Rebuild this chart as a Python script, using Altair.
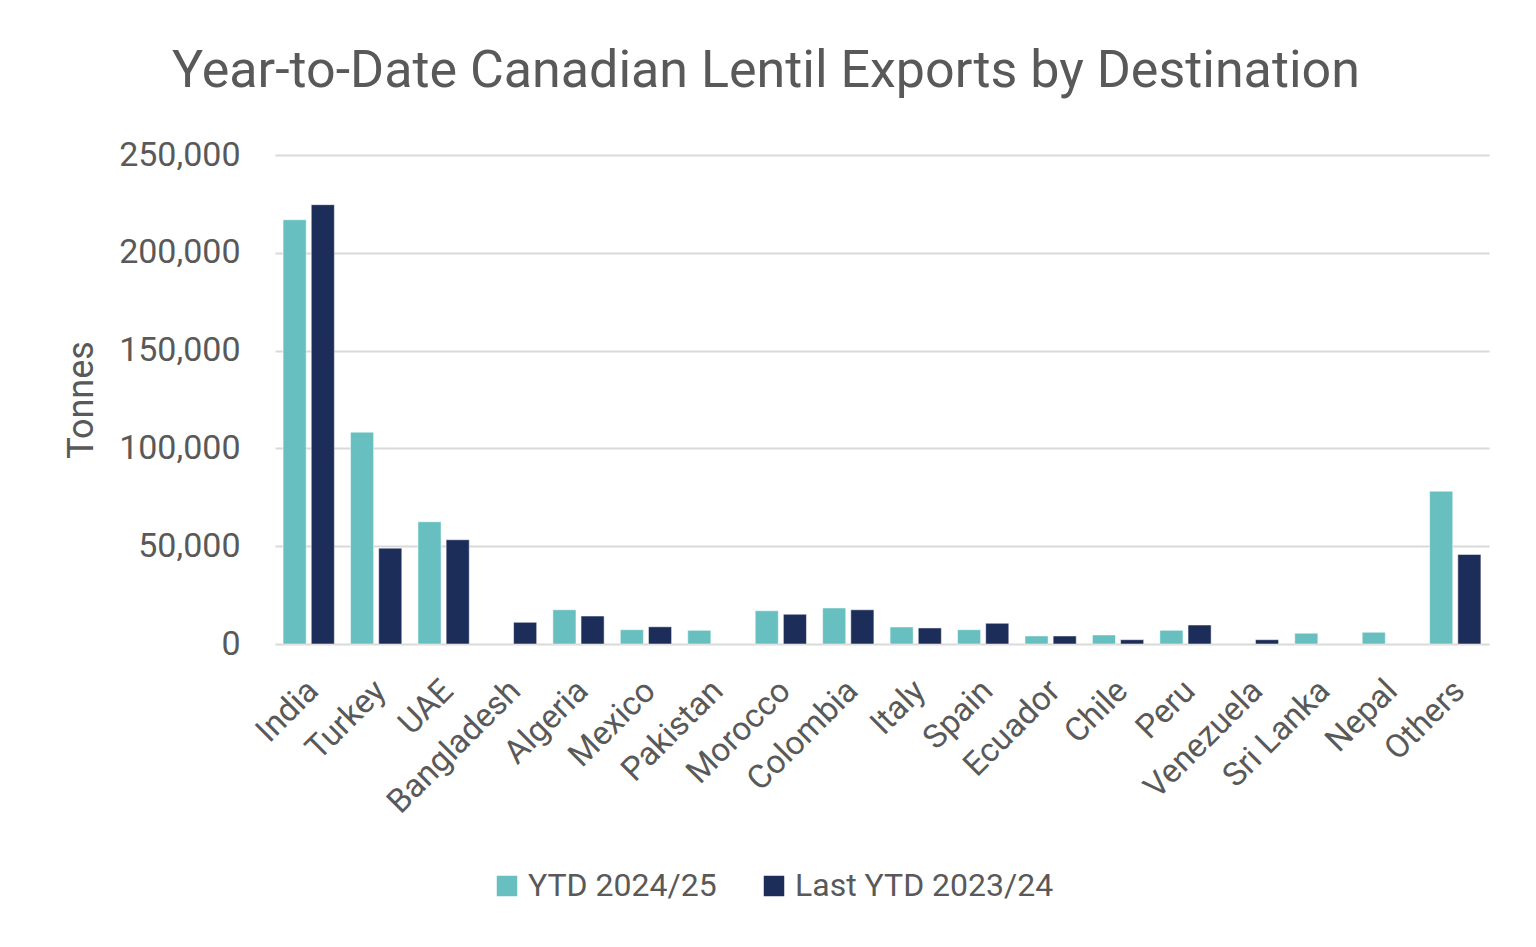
import altair as alt
import pandas as pd

categories = ["India", "Turkey", "UAE", "Bangladesh", "Algeria", "Mexico", "Pakistan",
              "Morocco", "Colombia", "Italy", "Spain", "Ecuador", "Chile", "Peru",
              "Venezuela", "Sri Lanka", "Nepal", "Others"]
ytd_2024_25 = [216900, 108300, 62500, 0, 17500, 7300, 7000, 17000, 18400, 8700, 7300,
               4100, 4600, 7000, 0, 5500, 6000, 78100]
last_ytd_2023_24 = [224600, 49000, 53300, 11100, 14300, 8800, 0, 15200, 17500, 8200, 10600,
                    4100, 2200, 9700, 2200, 0, 0, 45800]
series = ["YTD 2024/25", "Last YTD 2023/24"]
colors = ["#67BFBF", "#1C2D5A"]
y_ticks = [0, 50000, 100000, 150000, 200000, 250000]

rows = []
for c, a, b in zip(categories, ytd_2024_25, last_ytd_2023_24):
    if a:
        rows.append({"Destination": c, "Series": series[0], "Tonnes": a})
    if b:
        rows.append({"Destination": c, "Series": series[1], "Tonnes": b})
df = pd.DataFrame(rows)

FONT = "Roboto"
GRAY = "#595959"

chart = alt.Chart(df).mark_bar(stroke="white", strokeWidth=0.5).encode(
    x=alt.X("Destination:N", sort=categories,
            scale=alt.Scale(paddingInner=0.24, paddingOuter=0.12),
            axis=alt.Axis(title=None, labelAngle=-45, labelFontSize=33, labelColor=GRAY,
                          labelFont=FONT, ticks=False, domain=False, labelPadding=30,
                          labelOffset=-7)),
    xOffset=alt.XOffset("Series:N", sort=series, scale=alt.Scale(domain=series, paddingInner=0.18)),
    y=alt.Y("Tonnes:Q", scale=alt.Scale(domain=[0, 250000]),
            axis=alt.Axis(values=y_ticks, format=",d", title="Tonnes", titleFontSize=36,
                          titleFont=FONT, titleColor=GRAY, titleFontWeight="normal",
                          titlePadding=18, labelFontSize=34, labelFont=FONT, labelColor=GRAY,
                          labelPadding=35, ticks=False, domain=False,
                          gridColor="#D9D9D9", gridWidth=2)),
    color=alt.Color("Series:N", sort=series, scale=alt.Scale(domain=series, range=colors),
                    legend=alt.Legend(orient="none", legendX=216, legendY=715,
                                      direction="horizontal", title=None, symbolType="square",
                                      symbolSize=420, symbolStrokeWidth=0, labelFontSize=32,
                                      labelFont=FONT, labelColor=GRAY, columnPadding=41,
                                      labelOffset=5, labelLimit=500)),
).properties(
    width=1214, height=489,
    title=alt.TitleParams("Year-to-Date Canadian Lentil Exports by Destination",
                          fontSize=52, font=FONT, color=GRAY, fontWeight="normal",
                          offset=40, dx=-116),
    padding={"left": 63, "top": 45, "right": 46, "bottom": 20},
    background="white",
).configure_view(stroke=None)

chart.save("out.html", embed_options={"renderer": "svg", "actions": False})
